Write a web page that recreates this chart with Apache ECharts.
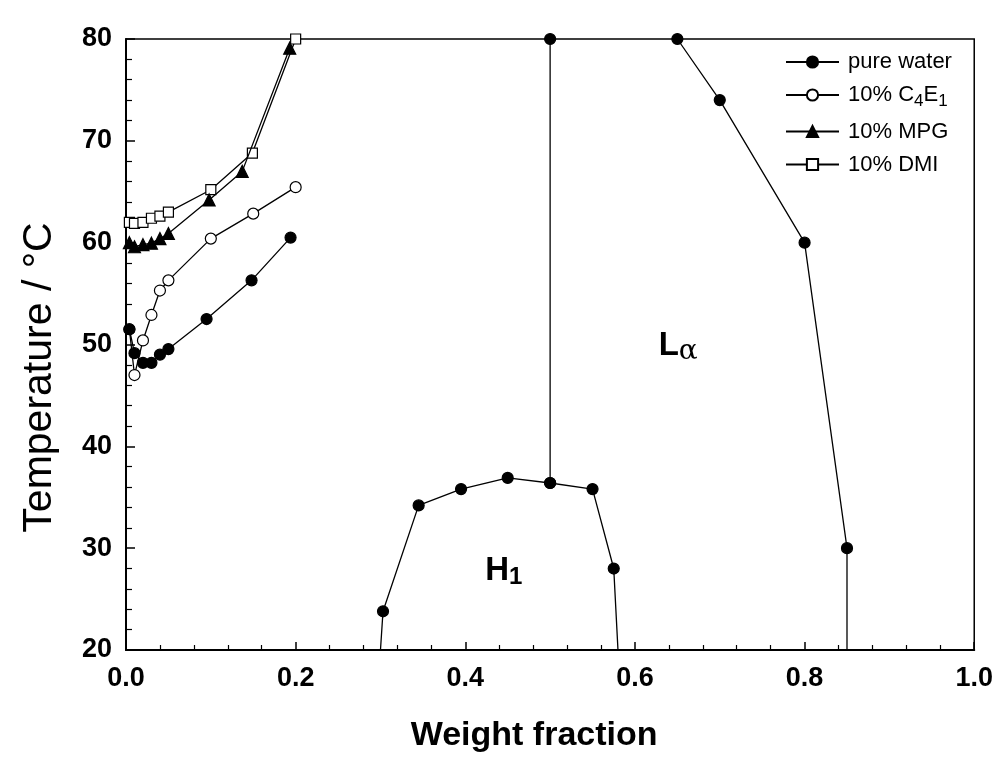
<!DOCTYPE html>
<html lang="en">
<head>
    <meta charset="UTF-8">
    <title>Phase diagram</title>
    <script type="text/javascript" src="https://cdn.jsdelivr.net/npm/echarts@6/dist/echarts.min.js"></script>
</head>
<style>
    html, body {
        margin: 0;
        padding: 0;
        background-color: #fff;
    }
    #chart {
        width: 996px;
        height: 760px;
    }
</style>
<body>
<div id="chart"></div>
</body>
<script>
    // pure water, low concentration branch
    var waterLow = [[0.004, 51.5], [0.01, 49.15], [0.02, 48.2], [0.03, 48.2], [0.04, 49.0], [0.05, 49.55], [0.095, 52.5], [0.148, 56.3], [0.194, 60.5]];
    // pure water, H1 dome (ends at the axis have no marker)
    var waterDome = [[0.3, 20], [0.303, 23.8], [0.345, 34.2], [0.395, 35.8], [0.45, 36.9], [0.5, 36.4], [0.55, 35.8], [0.575, 28.0], [0.58, 20]];
    var waterDomeOpenEnds = [0, 8];
    // pure water, vertical boundary at 0.5
    var waterMid = [[0.5, 36.4], [0.5, 80]];
    // pure water, right boundary
    var waterRight = [[0.65, 80], [0.7, 74.0], [0.8, 60.0], [0.85, 30.0], [0.85, 20]];
    var waterRightOpenEnds = [4];

    var c4e1 = [[0.004, 51.5], [0.01, 47.0], [0.02, 50.4], [0.03, 52.9], [0.04, 55.3], [0.05, 56.3], [0.1, 60.4], [0.15, 62.85], [0.2, 65.45]];
    var mpg = [[0.004, 60.0], [0.01, 59.6], [0.02, 59.8], [0.03, 59.95], [0.04, 60.4], [0.05, 60.9], [0.098, 64.2], [0.137, 67.0], [0.193, 79.1]];
    var dmi = [[0.004, 62.0], [0.01, 61.9], [0.02, 62.0], [0.03, 62.4], [0.04, 62.6], [0.05, 63.0], [0.1, 65.2], [0.149, 68.8], [0.2, 80]];

    var legendNames = ['pure water', '10% C4E1', '10% MPG', '10% DMI'];
    var xTicks = [0.0, 0.2, 0.4, 0.6, 0.8, 1.0];
    var yTicks = [20, 30, 40, 50, 60, 70, 80];

    // region labels, anchored at their left edge
    var regionLabels = [
        {name: 'H1', pos: [0.4235, 27.8], text: '{m|H}{s|1}'},
        {name: 'La', pos: [0.628, 49.9], text: '{m|L}{g|α}'}
    ];

    var font = 'Liberation Sans, Arial, sans-serif';

    function withOpenEnds(arr, open) {
        return arr.map(function (p, i) {
            if (open.indexOf(i) >= 0) {
                return {value: p, symbol: 'none'};
            }
            return p;
        });
    }

    function lineSeries(name, data, symbol, size, fill, z) {
        return {
            name: name,
            type: 'line',
            data: data,
            symbol: symbol,
            symbolSize: size,
            clip: false,
            z: z,
            lineStyle: {color: '#000', width: 1.3},
            itemStyle: {color: fill, borderColor: '#000', borderWidth: 1.2},
            animation: false
        };
    }

    var myChart = echarts.init(document.getElementById('chart'));

    var option = {
        backgroundColor: '#fff',
        textStyle: {fontFamily: font},
        grid: {
            left: 126,
            right: 20,
            top: 39,
            bottom: 110,
            show: true,
            borderColor: '#000',
            borderWidth: 1.5,
            backgroundColor: 'transparent'
        },
        legend: {
            orient: 'vertical',
            left: 780,
            top: 46,
            itemWidth: 53,
            itemHeight: 14,
            itemGap: 11,
            data: legendNames,
            textStyle: {
                fontFamily: font,
                fontSize: 22,
                color: '#000',
                padding: [0, 0, 0, 4],
                rich: {
                    sub: {fontSize: 17, fontFamily: font, color: '#000', padding: [12, 0, 0, 0]}
                }
            },
            formatter: function (name) {
                if (name === '10% C4E1') {
                    return '10% C{sub|4}E{sub|1}';
                }
                return name;
            }
        },
        xAxis: {
            type: 'value',
            min: 0,
            max: 1,
            interval: 0.2,
            name: 'Weight fraction',
            nameLocation: 'middle',
            nameGap: 69,
            nameTextStyle: {fontFamily: font, fontSize: 34, fontWeight: 'bold', color: '#000', padding: [0, 32, 0, 0]},
            axisLine: {show: true, lineStyle: {color: '#000', width: 2}},
            axisTick: {show: true, inside: true, length: 8, lineStyle: {color: '#000', width: 1.5}},
            minorTick: {show: true, splitNumber: 5, length: 5, lineStyle: {color: '#000', width: 1.2}},
            splitLine: {show: false},
            axisLabel: {
                fontFamily: font,
                fontSize: 27,
                fontWeight: 'bold',
                color: '#000',
                margin: 15,
                formatter: function (v) {
                    var t = xTicks.filter(function (k) { return Math.abs(k - v) < 1e-9; });
                    return t.length ? t[0].toFixed(1) : '';
                }
            }
        },
        yAxis: {
            type: 'value',
            min: 20,
            max: 80,
            interval: 10,
            name: 'Temperature / °C',
            nameLocation: 'middle',
            nameGap: 66,
            nameRotate: 90,
            nameTextStyle: {fontFamily: font, fontSize: 41, color: '#000', padding: [0, 66, 0, 0]},
            axisLine: {show: true, lineStyle: {color: '#000', width: 2}},
            axisTick: {show: true, inside: true, length: 9, lineStyle: {color: '#000', width: 1.5}},
            minorTick: {show: true, splitNumber: 5, length: 6, lineStyle: {color: '#000', width: 1.2}},
            splitLine: {show: false},
            axisLabel: {
                fontFamily: font,
                fontSize: 27,
                fontWeight: 'bold',
                color: '#000',
                margin: 14,
                formatter: function (v) {
                    return yTicks.indexOf(v) >= 0 ? String(v) : '';
                }
            }
        },
        series: [
            lineSeries('pure water', waterLow, 'circle', 11, '#000', 6),
            lineSeries('pure water', withOpenEnds(waterDome, waterDomeOpenEnds), 'circle', 11, '#000', 6),
            lineSeries('pure water', waterMid, 'circle', 11, '#000', 6),
            lineSeries('pure water', withOpenEnds(waterRight, waterRightOpenEnds), 'circle', 11, '#000', 6),
            lineSeries('10% C4E1', c4e1, 'circle', 11, '#fff', 5),
            lineSeries('10% MPG', mpg, 'triangle', 12, '#000', 4),
            lineSeries('10% DMI', dmi, 'rect', 10, '#fff', 3),
            {
                name: 'labels',
                type: 'scatter',
                symbolSize: 0,
                silent: true,
                animation: false,
                data: regionLabels.map(function (r) {
                    return {name: r.name, value: r.pos};
                }),
                label: {
                    show: true,
                    position: 'right',
                    distance: 0,
                    color: '#000',
                    opacity: 1,
                    formatter: function (p) {
                        return regionLabels[p.dataIndex].text;
                    },
                    rich: {
                        m: {fontFamily: font, fontSize: 33, fontWeight: 'bold', color: '#000'},
                        s: {fontFamily: font, fontSize: 24, fontWeight: 'bold', color: '#000', padding: [14, 0, 0, 0]},
                        g: {fontFamily: 'DejaVu Serif, serif', fontSize: 28, color: '#000', padding: [12, 0, 0, 0]}
                    }
                },
                emphasis: {disabled: true}
            }
        ]
    };

    myChart.setOption(option);
</script>
</html>
